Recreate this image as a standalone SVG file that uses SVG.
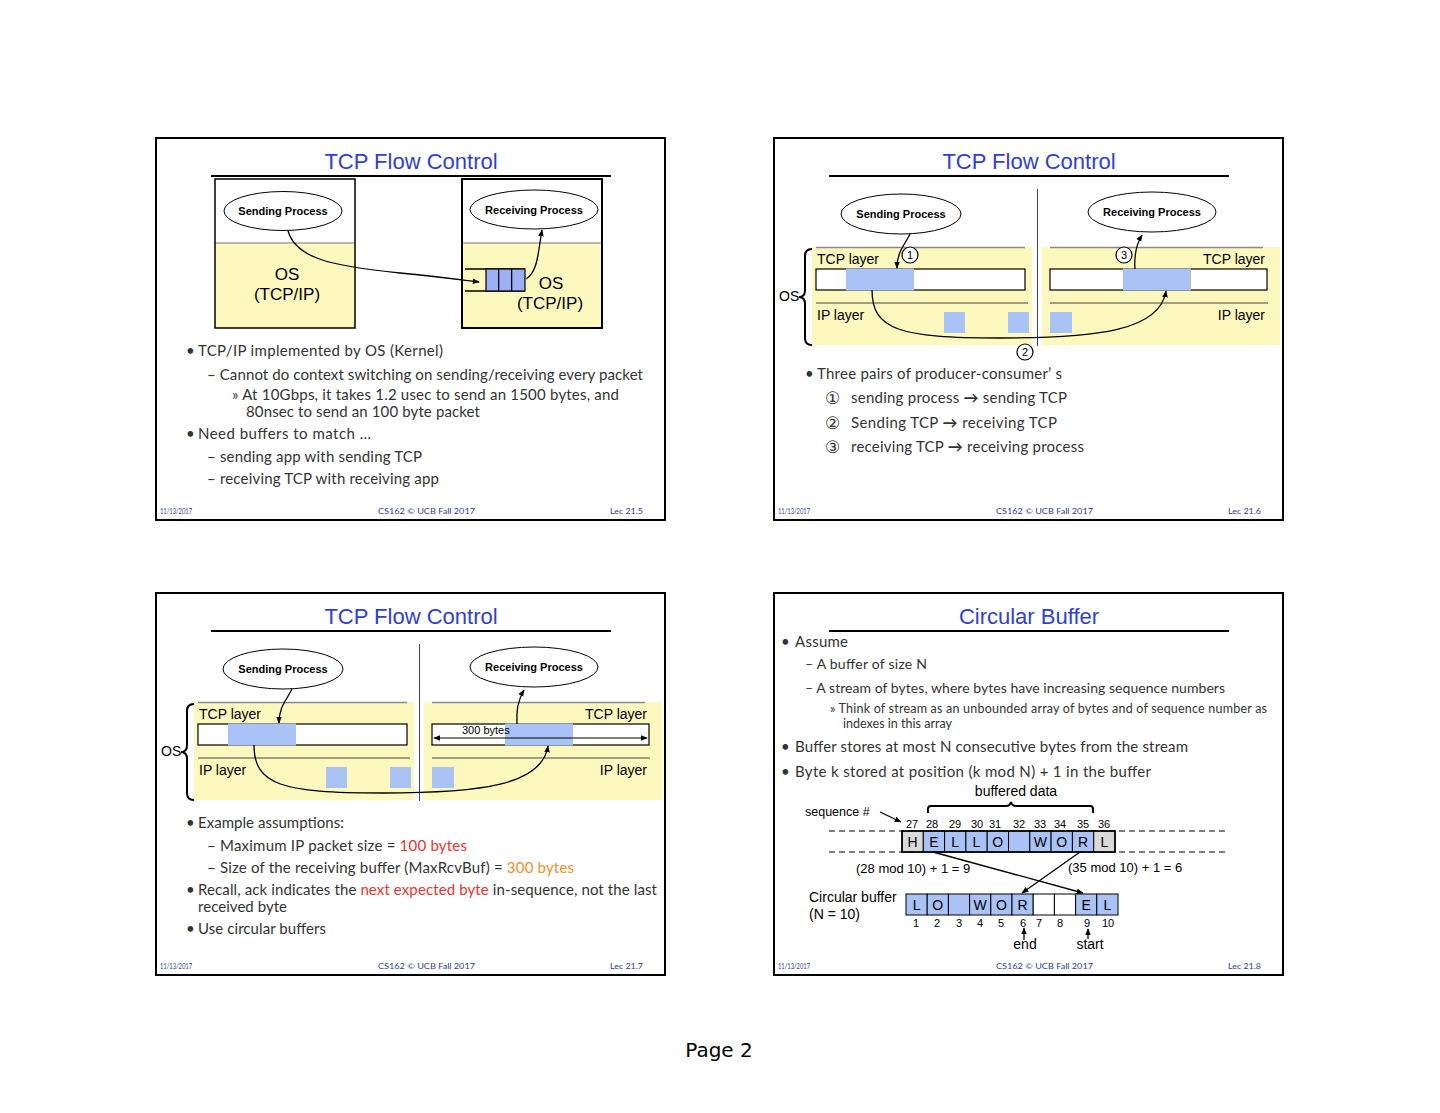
<svg xmlns="http://www.w3.org/2000/svg" width="1440" height="1113" viewBox="0 0 1440 1113">
<style>
.frame{fill:#fff;stroke:#000;stroke-width:2}
.title{font-family:"Liberation Sans",Arial,sans-serif;font-size:22px;fill:#2f3fd2;text-anchor:middle}
.uline{stroke:#000;stroke-width:2}
.b{font-family:Lato,"Open Sans",sans-serif;font-size:15px;fill:#333}
.s14{font-size:15px}
.s13{font-size:14px}
.s12{font-size:12.5px}
.foot{font-family:Lato,"Open Sans",sans-serif;font-size:7.5px;fill:#2b3a9e}
.lbl{font-family:"Liberation Sans",Arial,sans-serif;font-size:14px;fill:#000}
.big{font-family:"Liberation Sans",Arial,sans-serif;font-size:17px;fill:#000;text-anchor:middle}
.proc{font-family:"Liberation Sans",Arial,sans-serif;font-weight:bold;font-size:11px;text-anchor:middle;fill:#000}
.ell{fill:#fff;stroke:#000;stroke-width:1}
.yel{fill:#fdf8bd}
.blue{fill:#a9c3f6}
.qcell{fill:#9db0f5;stroke:#000;stroke-width:1.2}
.buf{fill:#fff;stroke:#000;stroke-width:1.2}
.gtop{stroke:#8a8a8a;stroke-width:1.5}
.gsep{stroke:#444;stroke-width:1}
.conn{fill:none;stroke:#000;stroke-width:1.3;marker-end:url(#ah)}
.brace{fill:none;stroke:#000;stroke-width:2}
.num{font-family:"Liberation Sans",Arial,sans-serif;font-size:11px;text-anchor:middle;fill:#000}
.cell{stroke:#000;stroke-width:1}
.ct{font-family:"Liberation Sans",Arial,sans-serif;font-size:14px;text-anchor:middle;fill:#000}
.red{fill:#e8352e}
.org{fill:#f0902c}
.circ{fill:#fff;stroke:#000;stroke-width:1.2}
</style>
<defs>
<marker id="ah" viewBox="0 0 10 10" refX="9" refY="5" markerWidth="7" markerHeight="7" markerUnits="userSpaceOnUse" orient="auto"><path d="M0,1 L10,5 L0,9 z" fill="#000"/></marker>
<marker id="ah2" viewBox="0 0 10 10" refX="9" refY="5" markerWidth="7" markerHeight="7" markerUnits="userSpaceOnUse" orient="auto-start-reverse"><path d="M0,1 L10,5 L0,9 z" fill="#000"/></marker>
</defs>
<rect width="1440" height="1113" fill="#fff"/>

<!-- ============ Slide 1 ============ -->
<g id="slide1">
<rect class="frame" x="156" y="138" width="509" height="382"/>
<text class="title" x="411" y="169">TCP Flow Control</text>
<line class="uline" x1="211" y1="176" x2="611" y2="176"/>
<g id="s1-sendhost">
<rect x="215" y="179" width="140" height="149" fill="#fff"/>
<rect class="yel" x="215" y="243" width="140" height="85"/>
<line x1="215" y1="243" x2="355" y2="243" stroke="#777" stroke-width="1"/>
<rect x="215" y="179" width="140" height="149" fill="none" stroke="#000" stroke-width="1.5"/>
<text class="big" x="287" y="280">OS</text>
<text class="big" x="287" y="300">(TCP/IP)</text>
</g>
<g id="s1-sendproc">
<ellipse class="ell" cx="283" cy="211" rx="59" ry="19.5"/>
<text class="proc" x="283" y="215">Sending Process</text>
</g>
<g id="s1-recvhost">
<rect x="462" y="179" width="140" height="149" fill="#fff"/>
<rect class="yel" x="462" y="243" width="140" height="85"/>
<line x1="462" y1="243" x2="602" y2="243" stroke="#777" stroke-width="1"/>
<rect x="462" y="179" width="140" height="149" fill="none" stroke="#000" stroke-width="2"/>
<text class="big" x="551" y="289">OS</text>
<text class="big" x="550" y="309">(TCP/IP)</text>
</g>
<g id="s1-recvproc">
<ellipse class="ell" cx="534" cy="209.5" rx="64" ry="19.5"/>
<text class="proc" x="534" y="213.5">Receiving Process</text>
</g>
<g id="s1-queue">
<line x1="465" y1="269" x2="525" y2="269" stroke="#000" stroke-width="1.5"/>
<line x1="465" y1="291" x2="525" y2="291" stroke="#000" stroke-width="1.5"/>
<rect class="qcell" x="486" y="269" width="12.7" height="22"/>
<rect class="qcell" x="498.7" y="269" width="13" height="22"/>
<rect class="qcell" x="511.7" y="269" width="13.3" height="22"/>
</g>
<g id="s1-connectors">
<path class="conn" d="M288,231 C296,258 330,266 400,273 C440,277 462,280 479,282"/>
<path class="conn" d="M526,279 C538,272 538,252 542,230"/>
</g>
<g id="s1-text">
<text class="b" x="186" y="356">•</text>
<text class="b" x="198" y="356" textLength="245">TCP/IP implemented by OS (Kernel)</text>
<text class="b" x="207" y="380" textLength="436">– Cannot do context switching on sending/receiving every packet</text>
<text class="b s14" x="232" y="400" textLength="387">» At 10Gbps, it takes 1.2 usec to send an 1500 bytes, and</text>
<text class="b s14" x="246" y="417" textLength="234">80nsec to send an 100 byte packet</text>
<text class="b" x="186" y="439">•</text>
<text class="b" x="198" y="439" textLength="173">Need buffers to match …</text>
<text class="b" x="207" y="462" textLength="215">– sending app with sending TCP</text>
<text class="b" x="207" y="484" textLength="232">– receiving TCP with receiving app</text>
</g>
<g id="s1-footer">
<text class="foot" x="160" y="514" textLength="32" lengthAdjust="spacingAndGlyphs">11/13/2017</text>
<text class="foot" x="378" y="514" textLength="97" lengthAdjust="spacingAndGlyphs">CS162 © UCB Fall 2017</text>
<text class="foot" x="610" y="514" textLength="33" lengthAdjust="spacingAndGlyphs">Lec 21.5</text>
</g>
</g>

<!-- ============ Slide 2 ============ -->
<g id="slide2">
<rect class="frame" x="774" y="138" width="509" height="382"/>
<text class="title" x="1029" y="169">TCP Flow Control</text>
<line class="uline" x1="829" y1="176" x2="1229" y2="176"/>
<g id="s2-layers">
<rect class="yel" x="812" y="247" width="220" height="98"/>
<rect class="yel" x="1042" y="247" width="238" height="98"/>
<line class="gtop" x1="816" y1="247.5" x2="1025" y2="247.5"/>
<line class="gtop" x1="1050" y1="247.5" x2="1263" y2="247.5"/>
<line class="gsep" x1="816" y1="303" x2="1028" y2="303"/>
<line class="gsep" x1="1050" y1="303" x2="1268" y2="303"/>
<line x1="1037.5" y1="189" x2="1037.5" y2="346" stroke="#444" stroke-width="1"/>
<text class="lbl" x="817" y="264">TCP layer</text>
<text class="lbl" x="817" y="320">IP layer</text>
<text class="lbl" x="1265" y="264" text-anchor="end">TCP layer</text>
<text class="lbl" x="1265" y="320" text-anchor="end">IP layer</text>
</g>
<g id="s2-sendbuf">
<rect class="buf" x="816" y="269" width="209" height="21"/>
<rect class="blue" x="846" y="268.5" width="68" height="22"/>
</g>
<g id="s2-recvbuf">
<rect class="buf" x="1050" y="269" width="217" height="21"/>
<rect class="blue" x="1123" y="268.5" width="68" height="22"/>
</g>
<g id="s2-packets">
<rect class="blue" x="944" y="312" width="21" height="21"/>
<rect class="blue" x="1008" y="312" width="21" height="21"/>
<rect class="blue" x="1050" y="312" width="22" height="21"/>
</g>
<g id="s2-os">
<path class="brace" d="M812,249 Q805,249 805,256 L805,290 Q805,297 799,297 Q805,297 805,304 L805,338 Q805,345 812,345"/>
<text class="lbl" x="779" y="301">OS</text>
</g>
<g id="s2-sendproc">
<ellipse class="ell" cx="901" cy="214" rx="60" ry="20"/>
<text class="proc" x="901" y="218">Sending Process</text>
</g>
<g id="s2-recvproc">
<ellipse class="ell" cx="1152" cy="212" rx="64" ry="20"/>
<text class="proc" x="1152" y="216">Receiving Process</text>
</g>
<g id="s2-connectors">
<path class="conn" d="M910,234 C904,246 897,252 897,268"/>
<path class="conn" d="M872,290 C872,330 900,338 1000,338 C1100,338 1160,330 1166,291"/>
<path class="conn" d="M1135,269 C1134,256 1136,245 1142,235"/>
</g>
<g id="s2-marks">
<circle class="circ" cx="910" cy="255" r="8"/>
<text class="num" x="910" y="259">1</text>
<circle class="circ" cx="1124" cy="255" r="8"/>
<text class="num" x="1124" y="259">3</text>
<circle class="circ" cx="1025" cy="352" r="8"/>
<text class="num" x="1025" y="356">2</text>
</g>
<g id="s2-text">
<text class="b" x="805" y="379">•</text>
<text class="b" x="817" y="379" textLength="245">Three pairs of producer-consumer’ s</text>
<text class="b" x="825" y="404" style="font-family:'DejaVu Sans',sans-serif;font-size:17px">①</text>
<text class="b" x="851" y="403" textLength="216">sending process <tspan font-weight="bold">→</tspan> sending TCP</text>
<text class="b" x="825" y="429" style="font-family:'DejaVu Sans',sans-serif;font-size:17px">②</text>
<text class="b" x="851" y="428" textLength="206">Sending TCP <tspan font-weight="bold">→</tspan> receiving TCP</text>
<text class="b" x="825" y="453" style="font-family:'DejaVu Sans',sans-serif;font-size:17px">③</text>
<text class="b" x="851" y="452" textLength="233">receiving TCP <tspan font-weight="bold">→</tspan> receiving process</text>
</g>
<g id="s2-footer">
<text class="foot" x="778" y="514" textLength="32" lengthAdjust="spacingAndGlyphs">11/13/2017</text>
<text class="foot" x="996" y="514" textLength="97" lengthAdjust="spacingAndGlyphs">CS162 © UCB Fall 2017</text>
<text class="foot" x="1228" y="514" textLength="33" lengthAdjust="spacingAndGlyphs">Lec 21.6</text>
</g>
</g>

<!-- ============ Slide 3 ============ -->
<g id="slide3">
<rect class="frame" x="156" y="593" width="509" height="382"/>
<text class="title" x="411" y="624">TCP Flow Control</text>
<line class="uline" x1="211" y1="631" x2="611" y2="631"/>
<g transform="translate(-618,455)">
<g id="s3-layers">
<rect class="yel" x="812" y="247" width="220" height="98"/>
<rect class="yel" x="1042" y="247" width="238" height="98"/>
<line class="gtop" x1="816" y1="247.5" x2="1025" y2="247.5"/>
<line class="gtop" x1="1050" y1="247.5" x2="1263" y2="247.5"/>
<line class="gsep" x1="816" y1="303" x2="1028" y2="303"/>
<line class="gsep" x1="1050" y1="303" x2="1268" y2="303"/>
<line x1="1037.5" y1="189" x2="1037.5" y2="346" stroke="#444" stroke-width="1"/>
<text class="lbl" x="817" y="264">TCP layer</text>
<text class="lbl" x="817" y="320">IP layer</text>
<text class="lbl" x="1265" y="264" text-anchor="end">TCP layer</text>
<text class="lbl" x="1265" y="320" text-anchor="end">IP layer</text>
</g>
<g id="s3-sendbuf">
<rect class="buf" x="816" y="269" width="209" height="21"/>
<rect class="blue" x="846" y="268.5" width="68" height="22"/>
</g>
<g id="s3-recvbuf">
<rect class="buf" x="1050" y="269" width="217" height="21"/>
<rect class="blue" x="1123" y="268.5" width="68" height="22"/>
<text x="1080" y="279" style="font-family:'Liberation Sans',Arial,sans-serif;font-size:11px" fill="#000">300 bytes</text>
<line x1="1052" y1="283" x2="1265" y2="283" stroke="#000" stroke-width="1" marker-start="url(#ah2)" marker-end="url(#ah2)"/>
</g>
<g id="s3-packets">
<rect class="blue" x="944" y="312" width="21" height="21"/>
<rect class="blue" x="1008" y="312" width="21" height="21"/>
<rect class="blue" x="1050" y="312" width="22" height="21"/>
</g>
<g id="s3-os">
<path class="brace" d="M812,249 Q805,249 805,256 L805,290 Q805,297 799,297 Q805,297 805,304 L805,338 Q805,345 812,345"/>
<text class="lbl" x="779" y="301">OS</text>
</g>
<g id="s3-sendproc">
<ellipse class="ell" cx="901" cy="214" rx="60" ry="20"/>
<text class="proc" x="901" y="218">Sending Process</text>
</g>
<g id="s3-recvproc">
<ellipse class="ell" cx="1152" cy="212" rx="64" ry="20"/>
<text class="proc" x="1152" y="216">Receiving Process</text>
</g>
<g id="s3-connectors">
<path class="conn" d="M910,234 C904,246 897,252 897,268"/>
<path class="conn" d="M872,290 C872,330 900,338 1000,338 C1100,338 1160,330 1166,291"/>
<path class="conn" d="M1135,269 C1134,256 1136,245 1142,235"/>
</g>
</g>
<g id="s3-text">
<text class="b" x="186" y="828">•</text>
<text class="b" x="198" y="828" textLength="146">Example assumptions:</text>
<text class="b" x="207" y="851" textLength="260">– Maximum IP packet size = <tspan class="red">100 bytes</tspan></text>
<text class="b" x="207" y="873" textLength="367">– Size of the receiving buffer (MaxRcvBuf) = <tspan class="org">300 bytes</tspan></text>
<text class="b" x="186" y="895">•</text>
<text class="b" x="198" y="895" textLength="459">Recall, ack indicates the <tspan class="red">next expected byte</tspan> in-sequence, not the last</text>
<text class="b" x="198" y="912" textLength="89">received byte</text>
<text class="b" x="186" y="934">•</text>
<text class="b" x="198" y="934" textLength="128">Use circular buffers</text>
</g>
<g id="s3-footer">
<text class="foot" x="160" y="969" textLength="32" lengthAdjust="spacingAndGlyphs">11/13/2017</text>
<text class="foot" x="378" y="969" textLength="97" lengthAdjust="spacingAndGlyphs">CS162 © UCB Fall 2017</text>
<text class="foot" x="610" y="969" textLength="33" lengthAdjust="spacingAndGlyphs">Lec 21.7</text>
</g>
</g>

<!-- ============ Slide 4 ============ -->
<g id="slide4">
<rect class="frame" x="774" y="593" width="509" height="382"/>
<text class="title" x="1029" y="624">Circular Buffer</text>
<line class="uline" x1="829" y1="631" x2="1229" y2="631"/>
<g id="s4-text">
<text class="b" x="781" y="647">•</text>
<text class="b" x="795" y="647" textLength="53">Assume</text>
<text class="b s13" x="805" y="669" textLength="122">– A buffer of size N</text>
<text class="b s13" x="805" y="693" textLength="420">– A stream of bytes, where bytes have increasing sequence numbers</text>
<text class="b s12" x="830" y="713" textLength="437">» Think of stream as an unbounded array of bytes and of sequence number as</text>
<text class="b s12" x="843" y="728" textLength="109">indexes in this array</text>
<text class="b" x="781" y="752">•</text>
<text class="b" x="795" y="752" textLength="393">Buffer stores at most N consecutive bytes from the stream</text>
<text class="b" x="781" y="777">•</text>
<text class="b" x="795" y="777" textLength="356">Byte k stored at position (k mod N) + 1 in the buffer</text>
</g>
<g id="s4-stream">
<text class="lbl" x="1016" y="796" text-anchor="middle">buffered data</text>
<path class="brace" d="M928,813 L928,809 Q928,806 931,806 L1006,806 Q1010,806 1011,802 Q1012,806 1016,806 L1090,806 Q1093,806 1093,809 L1093,813"/>
<text class="lbl" x="805" y="816" style="font-size:12.5px">sequence  #</text>
<line x1="829" y1="831" x2="1226" y2="831" stroke="#000" stroke-width="1" stroke-dasharray="6,4"/>
<line x1="829" y1="852" x2="1226" y2="852" stroke="#000" stroke-width="1" stroke-dasharray="6,4"/>
<g id="s4-seqnums">
<text class="num" x="912" y="828">27</text>
<text class="num" x="932" y="828">28</text>
<text class="num" x="955" y="828">29</text>
<text class="num" x="977" y="828">30</text>
<text class="num" x="995" y="828">31</text>
<text class="num" x="1019" y="828">32</text>
<text class="num" x="1040" y="828">33</text>
<text class="num" x="1060" y="828">34</text>
<text class="num" x="1083" y="828">35</text>
<text class="num" x="1104" y="828">36</text>
</g>
<g id="s4-topcells">
<rect class="cell" x="902" y="831" width="21.3" height="21" fill="#d9d9d9"/>
<rect class="cell" x="923.3" y="831" width="21.3" height="21" fill="#a9c3f6"/>
<rect class="cell" x="944.6" y="831" width="21.3" height="21" fill="#a9c3f6"/>
<rect class="cell" x="965.9" y="831" width="21.3" height="21" fill="#a9c3f6"/>
<rect class="cell" x="987.2" y="831" width="21.3" height="21" fill="#a9c3f6"/>
<rect class="cell" x="1008.5" y="831" width="21.3" height="21" fill="#a9c3f6"/>
<rect class="cell" x="1029.8" y="831" width="21.3" height="21" fill="#a9c3f6"/>
<rect class="cell" x="1051.1" y="831" width="21.3" height="21" fill="#a9c3f6"/>
<rect class="cell" x="1072.4" y="831" width="21.3" height="21" fill="#a9c3f6"/>
<rect class="cell" x="1093.7" y="831" width="21.3" height="21" fill="#d9d9d9"/>
<rect x="902" y="831" width="213" height="21" fill="none" stroke="#000" stroke-width="1.6"/>
<text class="ct" x="912.6" y="847">H</text>
<text class="ct" x="933.9" y="847">E</text>
<text class="ct" x="955.2" y="847">L</text>
<text class="ct" x="976.5" y="847">L</text>
<text class="ct" x="997.8" y="847">O</text>
<text class="ct" x="1040.4" y="847">W</text>
<text class="ct" x="1061.7" y="847">O</text>
<text class="ct" x="1083" y="847">R</text>
<text class="ct" x="1104.3" y="847">L</text>
</g>
<text class="lbl" x="856" y="873" style="font-size:13px">(28 mod 10) + 1 = 9</text>
<text class="lbl" x="1068" y="872" style="font-size:13px">(35 mod 10) + 1 = 6</text>
</g>
<g id="s4-circbuf">
<text class="lbl" x="809" y="902">Circular buffer</text>
<text class="lbl" x="809" y="919">(N = 10)</text>
<rect class="cell" x="906" y="894" width="21.2" height="21" fill="#a9c3f6"/>
<rect class="cell" x="927.2" y="894" width="21.2" height="21" fill="#a9c3f6"/>
<rect class="cell" x="948.4" y="894" width="21.2" height="21" fill="#a9c3f6"/>
<rect class="cell" x="969.6" y="894" width="21.2" height="21" fill="#a9c3f6"/>
<rect class="cell" x="990.8" y="894" width="21.2" height="21" fill="#a9c3f6"/>
<rect class="cell" x="1012" y="894" width="21.2" height="21" fill="#a9c3f6"/>
<rect class="cell" x="1033.2" y="894" width="21.2" height="21" fill="#fff"/>
<rect class="cell" x="1054.4" y="894" width="21.2" height="21" fill="#fff"/>
<rect class="cell" x="1075.6" y="894" width="21.2" height="21" fill="#a9c3f6"/>
<rect class="cell" x="1096.8" y="894" width="21.2" height="21" fill="#a9c3f6"/>
<text class="ct" x="916.6" y="910">L</text>
<text class="ct" x="937.8" y="910">O</text>
<text class="ct" x="980.2" y="910">W</text>
<text class="ct" x="1001.4" y="910">O</text>
<text class="ct" x="1022.6" y="910">R</text>
<text class="ct" x="1086.2" y="910">E</text>
<text class="ct" x="1107.4" y="910">L</text>
<text class="num" x="916" y="927">1</text>
<text class="num" x="937" y="927">2</text>
<text class="num" x="959" y="927">3</text>
<text class="num" x="980" y="927">4</text>
<text class="num" x="1001" y="927">5</text>
<text class="num" x="1023" y="927">6</text>
<text class="num" x="1039" y="927">7</text>
<text class="num" x="1060" y="927">8</text>
<text class="num" x="1087" y="927">9</text>
<text class="num" x="1108" y="927">10</text>
<text class="lbl" x="1025" y="949" text-anchor="middle">end</text>
<text class="lbl" x="1090" y="949" text-anchor="middle">start</text>
</g>
<g id="s4-connectors">
<line class="conn" x1="880" y1="812" x2="901" y2="822"/>
<line class="conn" x1="933" y1="852" x2="1083" y2="893"/>
<line class="conn" x1="1080" y1="852" x2="1022" y2="893"/>
<line class="conn" x1="1024" y1="940" x2="1024" y2="928"/>
<line class="conn" x1="1088" y1="939" x2="1088" y2="929"/>
</g>
<g id="s4-footer">
<text class="foot" x="778" y="969" textLength="32" lengthAdjust="spacingAndGlyphs">11/13/2017</text>
<text class="foot" x="996" y="969" textLength="97" lengthAdjust="spacingAndGlyphs">CS162 © UCB Fall 2017</text>
<text class="foot" x="1228" y="969" textLength="33" lengthAdjust="spacingAndGlyphs">Lec 21.8</text>
</g>
</g>

<text x="719" y="1057" text-anchor="middle" style="font-family:'Comic Sans MS','DejaVu Sans',sans-serif;font-size:20px" fill="#000">Page 2</text>
</svg>
